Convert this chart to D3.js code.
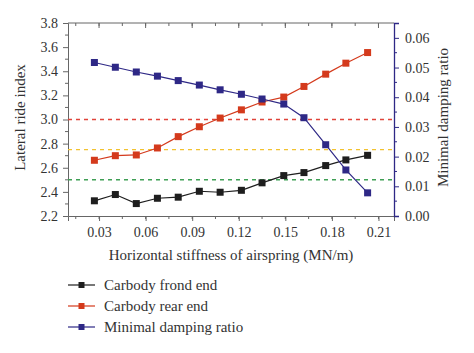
<!DOCTYPE html>
<html>
<head>
<meta charset="utf-8">
<script src="https://cdn.jsdelivr.net/npm/d3@7"></script>
<style>
  body { margin: 0; background: #fff; }
  text { font-family: "Liberation Serif", "DejaVu Serif", serif; fill: #333; }
</style>
</head>
<body>
<div id="chart"></div>
<script>
// stiffness values (MN/m)
const stiffness = [0.027, 0.0405, 0.054, 0.0676, 0.081, 0.0946, 0.108, 0.1217, 0.135, 0.149, 0.162, 0.176, 0.189, 0.203];
// lateral ride index
const frontEnd = [2.326, 2.378, 2.303, 2.347, 2.356, 2.405, 2.397, 2.413, 2.475, 2.535, 2.56, 2.618, 2.665, 2.703];
const rearEnd = [2.662, 2.70, 2.706, 2.764, 2.858, 2.94, 3.012, 3.08, 3.145, 3.186, 3.274, 3.376, 3.467, 3.555];
// minimal damping ratio (right axis)
const dampingRatio = [0.0517, 0.0501, 0.0485, 0.0471, 0.0456, 0.0441, 0.0425, 0.0410, 0.0394, 0.0377, 0.0331, 0.0240, 0.0155, 0.0078];
// threshold lines on the ride index
const limits = [3.0, 2.75, 2.5];
const limitColors = ["#e0443a", "#f2c230", "#3f9f55"];
const xTicks = [0.03, 0.06, 0.09, 0.12, 0.15, 0.18, 0.21];
const yTicks = [2.2, 2.4, 2.6, 2.8, 3.0, 3.2, 3.4, 3.6, 3.8];
const y2Ticks = [0, 0.01, 0.02, 0.03, 0.04, 0.05, 0.06];
const seriesNames = ["Carbody frond end", "Carbody rear end", "Minimal damping ratio"];
const seriesColors = ["#1e1e1e", "#d43a1c", "#2e2886"];

const W = 474, H = 353;
const margin = {top: 23, right: 80, bottom: 137, left: 68};
const width = W - margin.left - margin.right,
      height = H - margin.top - margin.bottom;

const svg = d3.select("#chart").append("svg")
    .attr("width", W).attr("height", H)
  .append("g")
    .attr("transform", `translate(${margin.left},${margin.top})`);

const x = d3.scaleLinear().domain([0.01, 0.22]).range([0, width]);
const y = d3.scaleLinear().domain([2.2, 3.8]).range([height, 0]);
const y2 = d3.scaleLinear().domain([0, 0.065]).range([height, 0]);

const axisColor = "#666";

// minor ticks
const xMinor = d3.range(0.015, 0.22, 0.015);
const yMinor = d3.range(2.3, 3.8, 0.2);
const y2Minor = d3.range(0.005, 0.065, 0.01);

// bottom axis
const xAxis = svg.append("g")
    .attr("transform", `translate(0,${height})`)
    .call(d3.axisBottom(x).tickValues(xTicks).tickFormat(d3.format(".2f")).tickSizeOuter(0).tickSize(5).tickPadding(6));
xAxis.selectAll("line").attr("stroke", axisColor);
xAxis.select(".domain").attr("stroke", axisColor);
xAxis.selectAll("text").style("font-size", "14px").attr("fill", "#333");
svg.append("g").selectAll("line").data(xMinor).join("line")
    .attr("x1", d => x(d)).attr("x2", d => x(d))
    .attr("y1", height).attr("y2", height + 3)
    .attr("stroke", axisColor);

// top border with inward ticks
svg.append("line").attr("x1", 0).attr("x2", width).attr("y1", 0).attr("y2", 0).attr("stroke", axisColor);
svg.append("g").selectAll("line").data(xTicks).join("line")
    .attr("x1", d => x(d)).attr("x2", d => x(d))
    .attr("y1", 0).attr("y2", 5).attr("stroke", axisColor);
svg.append("g").selectAll("line").data(xMinor).join("line")
    .attr("x1", d => x(d)).attr("x2", d => x(d))
    .attr("y1", 0).attr("y2", 3).attr("stroke", axisColor);

// left axis
const yAxis = svg.append("g")
    .call(d3.axisLeft(y).tickValues(yTicks).tickFormat(d3.format(".1f")).tickSizeOuter(0).tickSize(5).tickPadding(5));
yAxis.selectAll("line").attr("stroke", axisColor);
yAxis.select(".domain").attr("stroke", axisColor);
yAxis.selectAll("text").style("font-size", "14px").attr("fill", "#333");
svg.append("g").selectAll("line").data(yMinor).join("line")
    .attr("x1", -3).attr("x2", 0)
    .attr("y1", d => y(d)).attr("y2", d => y(d))
    .attr("stroke", axisColor);

// right axis (damping ratio)
const y2Axis = svg.append("g")
    .attr("transform", `translate(${width},0)`)
    .call(d3.axisRight(y2).tickValues(y2Ticks).tickFormat(d3.format(".2f")).tickSizeOuter(0).tickSize(5).tickPadding(6));
y2Axis.selectAll("line").attr("stroke", seriesColors[2]);
y2Axis.select(".domain").attr("stroke", seriesColors[2]).attr("stroke-width", 1.3);
y2Axis.selectAll("text").style("font-size", "14px").attr("fill", "#333");
svg.append("g").selectAll("line").data(y2Minor).join("line")
    .attr("x1", width).attr("x2", width + 3)
    .attr("y1", d => y2(d)).attr("y2", d => y2(d))
    .attr("stroke", seriesColors[2]);

// dashed limit lines
svg.append("g").selectAll("line").data(limits).join("line")
    .attr("x1", 0).attr("x2", width)
    .attr("y1", d => y(d)).attr("y2", d => y(d))
    .style("stroke", (d, i) => limitColors[i])
    .attr("stroke-width", 1.4)
    .attr("stroke-dasharray", "4,4");

// series
const series = [
  {values: frontEnd, scale: y},
  {values: rearEnd, scale: y},
  {values: dampingRatio, scale: y2}
];

series.forEach((s, i) => {
  const pts = stiffness.map((k, j) => [k, s.values[j]]);
  const line = d3.line().x(d => x(d[0])).y(d => s.scale(d[1]));
  svg.append("path").datum(pts)
      .attr("fill", "none")
      .attr("stroke", seriesColors[i])
      .attr("stroke-width", 1.2)
      .attr("d", line);
  svg.append("g").selectAll("rect").data(pts).join("rect")
      .attr("x", d => x(d[0]) - 3.5)
      .attr("y", d => s.scale(d[1]) - 3.5)
      .attr("width", 7).attr("height", 7)
      .attr("fill", seriesColors[i]);
});

// axis titles
svg.append("text")
    .attr("text-anchor", "middle")
    .attr("x", width / 2)
    .attr("y", height + 44)
    .style("font-size", "15px")
    .text("Horizontal stiffness of airspring (MN/m)");

svg.append("text")
    .attr("text-anchor", "middle")
    .attr("transform", `translate(${-43},${height / 2 - 2}) rotate(-90)`)
    .style("font-size", "15px")
    .text("Lateral ride index");

svg.append("text")
    .attr("text-anchor", "middle")
    .attr("transform", `translate(${width + 54},${height / 2 - 2}) rotate(-90)`)
    .style("font-size", "15px")
    .text("Minimal damping ratio");

// legend
const legend = svg.append("g").attr("transform", `translate(0,${height + 69})`);
seriesNames.forEach((name, i) => {
  const g = legend.append("g").attr("transform", `translate(0,${i * 21})`);
  g.append("line").attr("x1", 0).attr("x2", 27).attr("y1", 0).attr("y2", 0)
      .attr("stroke", seriesColors[i]).attr("stroke-width", 1.2);
  g.append("rect").attr("x", 10.5).attr("y", -3).attr("width", 6).attr("height", 6)
      .attr("fill", seriesColors[i]);
  g.append("text").attr("x", 36).attr("y", 5)
      .style("font-size", "15px")
      .text(name);
});
</script>
</body>
</html>
